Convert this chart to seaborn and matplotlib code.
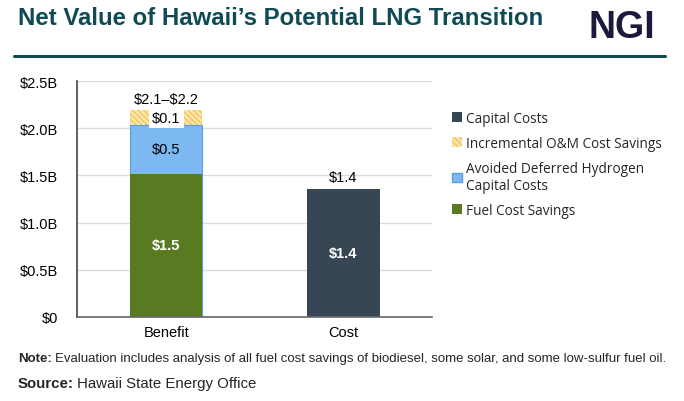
import matplotlib
matplotlib.use("Agg")
import matplotlib.pyplot as plt
import seaborn as sns
import pandas as pd
from matplotlib.patches import Patch

categories = ["Benefit", "Cost"]
fuel_savings = [1.52, 0]
hydrogen_avoided = [0.51, 0]
om_savings = [0.16, 0]
capital_costs = [0, 1.36]

inside_labels = {"fuel": [r"\$1.5", ""], "hydrogen": [r"\$0.5", ""], "om": [r"\$0.1", ""],
                 "capital": ["", r"\$1.4"]}
top_labels = [r"\$2.1–\$2.2", r"\$1.4"]
ytick_vals = [0, 0.5, 1.0, 1.5, 2.0, 2.5]
ytick_labels = [r"\$0", r"\$0.5B", r"\$1.0B", r"\$1.5B", r"\$2.0B", r"\$2.5B"]

green = "#5a7a22"
blue = "#7cb9f2"
slate = "#374654"
yellow_bg = "#fbe7ad"
yellow = "#f0c55a"
hatch = "\\\\\\\\\\\\"

df = pd.DataFrame({
    "category": categories,
    "fuel": fuel_savings,
    "hydrogen": hydrogen_avoided,
    "om": om_savings,
    "capital": capital_costs,
})
df["lvl1"] = df["fuel"]
df["lvl2"] = df["lvl1"] + df["hydrogen"]
df["lvl3"] = df["lvl2"] + df["om"]

sns.set_style("white")
plt.rcParams["font.family"] = ["Liberation Sans", "DejaVu Sans"]
plt.rcParams["hatch.linewidth"] = 1.0

fig = plt.figure(figsize=(6.84, 4.02), dpi=100)
ax = fig.add_axes([0.1133, 0.209, 0.5183, 0.587])

w = 0.41
# stacked bars drawn back to front
sns.barplot(data=df, x="category", y="lvl3", order=categories, color=yellow_bg,
            edgecolor=yellow, hatch=hatch, linewidth=0, width=w, ax=ax, saturation=1)
sns.barplot(data=df, x="category", y="lvl2", order=categories, color=blue,
            edgecolor="#5a9ee0", linewidth=0.8, width=w, ax=ax, saturation=1)
sns.barplot(data=df, x="category", y="lvl1", order=categories, color=green,
            linewidth=0, width=w, ax=ax, saturation=1)
sns.barplot(data=df, x="category", y="capital", order=categories, color=slate,
            linewidth=0, width=w, ax=ax, saturation=1)

for i, row in df.iterrows():
    if row["fuel"] > 0:
        ax.text(i, row["fuel"] / 2, inside_labels["fuel"][i], ha="center", va="center",
                color="white", fontsize=10.5, fontweight="bold")
    if row["hydrogen"] > 0:
        ax.text(i, row["lvl1"] + row["hydrogen"] / 2, inside_labels["hydrogen"][i],
                ha="center", va="center", color="black", fontsize=10.5)
    if row["om"] > 0:
        ax.text(i, row["lvl2"] + row["om"] / 2, inside_labels["om"][i], ha="center", va="center",
                color="black", fontsize=10.5,
                bbox=dict(boxstyle="square,pad=0.22", facecolor="white", edgecolor="none"))
    if row["capital"] > 0:
        ax.text(i, row["capital"] / 2, inside_labels["capital"][i], ha="center",
                va="center", color="white", fontsize=10.5, fontweight="bold")
    top = max(row["lvl3"], row["capital"])
    ax.text(i, top + 0.05, top_labels[i], ha="center", va="bottom", color="black", fontsize=10.5)

ax.set_xlim(-0.5, 1.5)
ax.set_ylim(0, 2.5)
ax.set_yticks(ytick_vals)
ax.set_yticklabels(ytick_labels)
ax.set_xlabel("")
ax.set_ylabel("")
ax.yaxis.grid(True, color="#dcdcdc", linewidth=1)
ax.set_axisbelow(True)
for s in ["top", "right"]:
    ax.spines[s].set_visible(False)
ax.spines["left"].set_color("#444444")
ax.spines["bottom"].set_color("#666666")
ax.spines["left"].set_linewidth(1.2)
ax.spines["bottom"].set_linewidth(1.2)
ax.tick_params(axis="both", length=0, labelsize=10.5, colors="black", pad=6)
ax.tick_params(axis="y", pad=14)

handles = [
    Patch(facecolor=slate, edgecolor="none", label="Capital Costs"),
    Patch(facecolor=yellow_bg, edgecolor=yellow, hatch=hatch, linewidth=0,
          label="Incremental O&M Cost Savings"),
    Patch(facecolor=blue, edgecolor="#5a9ee0", label="Avoided Deferred Hydrogen\nCapital Costs"),
    Patch(facecolor=green, edgecolor="none", label="Fuel Cost Savings"),
]
fig.legend(handles=handles, loc="upper left", bbox_to_anchor=(0.643, 0.752), frameon=False,
           handlelength=0.7, handleheight=0.7, handletextpad=0.35, labelspacing=0.72,
           prop={"family": "Open Sans", "size": 9.8})

fig.text(0.026, 0.953, "Net Value of Hawaii’s Potential LNG Transition", fontsize=17.3,
         fontweight="bold", color="#0f4a55", va="center", ha="left")
fig.text(0.958, 0.93, "NGI", fontsize=27, fontweight="bold", color="#1b1a3d",
         va="center", ha="right")
fig.add_artist(plt.Line2D([0.021, 0.972], [0.858, 0.858], color="#0f4a55", linewidth=2.2))

# footer: regular text placed right after the bold lead-in
fig.canvas.draw()
renderer = fig.canvas.get_renderer()
inv = fig.transFigure.inverted()
footer = [("Note:", "Evaluation includes analysis of all fuel cost savings of biodiesel, some solar, "
           "and some low-sulfur fuel oil.", 9.5, 0.108),
          ("Source:", "Hawaii State Energy Office", 10.8, 0.045)]
for lead, rest, size, ypos in footer:
    t = fig.text(0.026, ypos, lead, fontsize=size, fontweight="bold", va="center", ha="left")
    bb = t.get_window_extent(renderer=renderer)
    x_end = inv.transform((bb.x1 + 3.5, 0))[0]
    fig.text(x_end, ypos, rest, fontsize=size, va="center", ha="left")

fig.savefig("out.png", dpi=100)
